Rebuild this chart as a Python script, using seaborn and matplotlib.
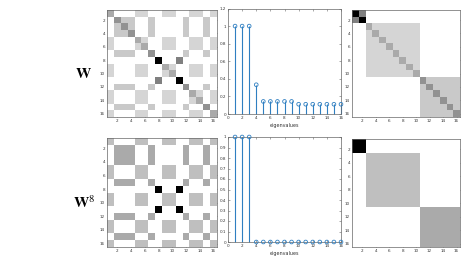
import numpy as np
import pandas as pd
import matplotlib
matplotlib.use("Agg")
import matplotlib.pyplot as plt
import seaborn as sns
from matplotlib.ticker import FormatStrFormatter

# ---------------- data ----------------
n_nodes = 16
# component membership (1-based node ids)
group_pair = [8, 11]
group_eight = [1, 5, 6, 9, 10, 13, 14, 16]
group_six = [2, 3, 4, 7, 12, 15]
groups = [group_pair, group_eight, group_six]

# W: within-component weights (diagonal, off-diagonal)
w_diag = [0.667, 0.222, 0.286]
w_off = [0.333, 0.111, 0.143]
# W^8: within-component weights (uniform blocks)
w8_diag = [0.5, 0.125, 0.167]
w8_off = [0.5, 0.125, 0.167]

# eigenvalues (sorted)
eig_index = list(range(1, 17))
eig_w = [1.0, 1.0, 1.0, 0.333, 0.143, 0.143, 0.143, 0.143, 0.143,
         0.111, 0.111, 0.111, 0.111, 0.111, 0.111, 0.111]
eig_w8 = [1.0, 1.0, 1.0, 0.0, 0.0, 0.0, 0.0, 0.0, 0.0,
          0.0, 0.0, 0.0, 0.0, 0.0, 0.0, 0.0]

matrix_ticks = [2, 4, 6, 8, 10, 12, 14, 16]
stem_xticks = [0, 2, 4, 6, 8, 10, 12, 14, 16]
stem_yticks_top = [0, 0.2, 0.4, 0.6, 0.8, 1.0, 1.2]
stem_yticks_bot = [0, 0.1, 0.2, 0.3, 0.4, 0.5, 0.6, 0.7, 0.8, 0.9, 1.0]
row_labels = [r"$\mathbf{W}$", r"$\mathbf{W}^{8}$"]
xlabel_text = "eigenvalues"


def build(diag, off):
    M = np.zeros((n_nodes, n_nodes))
    for g, d, o in zip(groups, diag, off):
        idx = [i - 1 for i in g]
        for i in idx:
            for j in idx:
                M[i, j] = d if i == j else o
    return M


order = [i - 1 for g in groups for i in g]
W = build(w_diag, w_off)
W8 = build(w8_diag, w8_off)
W_r = W[np.ix_(order, order)]
W8_r = W8[np.ix_(order, order)]

# ---------------- figure ----------------
sns.set_style("white")
plt.rcParams["mathtext.fontset"] = "stix"
FW, FH = 474, 266
fig = plt.figure(figsize=(FW / 100, FH / 100), dpi=100)
fig.patch.set_facecolor("white")


def rect(x0, y0, x1, y1):
    return [x0 / FW, 1 - y1 / FH, (x1 - x0) / FW, (y1 - y0) / FH]


frame_col = "#666666"
tick_col = "#333333"
blue = "#2f7fc1"


def style_axes(ax):
    for s in ax.spines.values():
        s.set_visible(True)
        s.set_color(frame_col)
        s.set_linewidth(0.5)
    ax.tick_params(direction="in", length=1.5, width=0.4, colors=frame_col,
                   labelcolor=tick_col, labelsize=3, pad=1.5,
                   top=True, right=True, bottom=True, left=True)


def draw_matrix(ax, M):
    df = pd.DataFrame(M)
    sns.heatmap(df, ax=ax, cmap="gray_r", vmin=0, vmax=M.max(), cbar=False,
                xticklabels=False, yticklabels=False, square=False)
    pos = [t - 0.5 for t in matrix_ticks]
    ax.set_xticks(pos)
    ax.set_xticklabels([str(t) for t in matrix_ticks], rotation=0)
    ax.set_yticks(pos)
    ax.set_yticklabels([str(t) for t in matrix_ticks], rotation=0)
    style_axes(ax)


def draw_stem(ax, y, yticks, ymax):
    ax.vlines(eig_index, 0, y, color=blue, lw=0.8, zorder=2)
    sns.scatterplot(x=eig_index, y=y, ax=ax, s=7, marker="o", zorder=3,
                    legend=False)
    coll = ax.collections[-1]
    coll.set_facecolor("none")
    coll.set_edgecolor(blue)
    coll.set_linewidth(0.6)
    ax.axhline(0, color="#222222", lw=0.6, zorder=1)
    ax.set_xlim(0, 16)
    ax.set_ylim(0, ymax)
    ax.set_xticks(stem_xticks)
    ax.set_yticks(yticks)
    ax.yaxis.set_major_formatter(FormatStrFormatter("%g"))
    ax.set_xlabel(xlabel_text, fontsize=3.5, labelpad=2, color=tick_col)
    ax.set_ylabel("")
    style_axes(ax)
    for c in ax.collections:
        c.set_clip_on(False)


ax1 = fig.add_axes(rect(107, 10, 217, 117))
draw_matrix(ax1, W)
ax2 = fig.add_axes(rect(228, 8.5, 341, 114))
draw_stem(ax2, eig_w, stem_yticks_top, 1.2)
ax3 = fig.add_axes(rect(352, 10, 460, 117))
draw_matrix(ax3, W_r)

ax4 = fig.add_axes(rect(107, 138, 217, 247))
draw_matrix(ax4, W8)
ax5 = fig.add_axes(rect(228, 137, 341, 242))
draw_stem(ax5, eig_w8, stem_yticks_bot, 1.0)
ax6 = fig.add_axes(rect(352, 139, 460, 247))
draw_matrix(ax6, W8_r)

fig.text(75 / FW, 1 - 77.5 / FH, row_labels[0], ha="left", va="baseline",
         fontsize=11, color="black")
fig.text(73 / FW, 1 - 207.5 / FH, row_labels[1], ha="left", va="baseline",
         fontsize=11, color="black")

fig.savefig("out.png", dpi=100, facecolor="white")
